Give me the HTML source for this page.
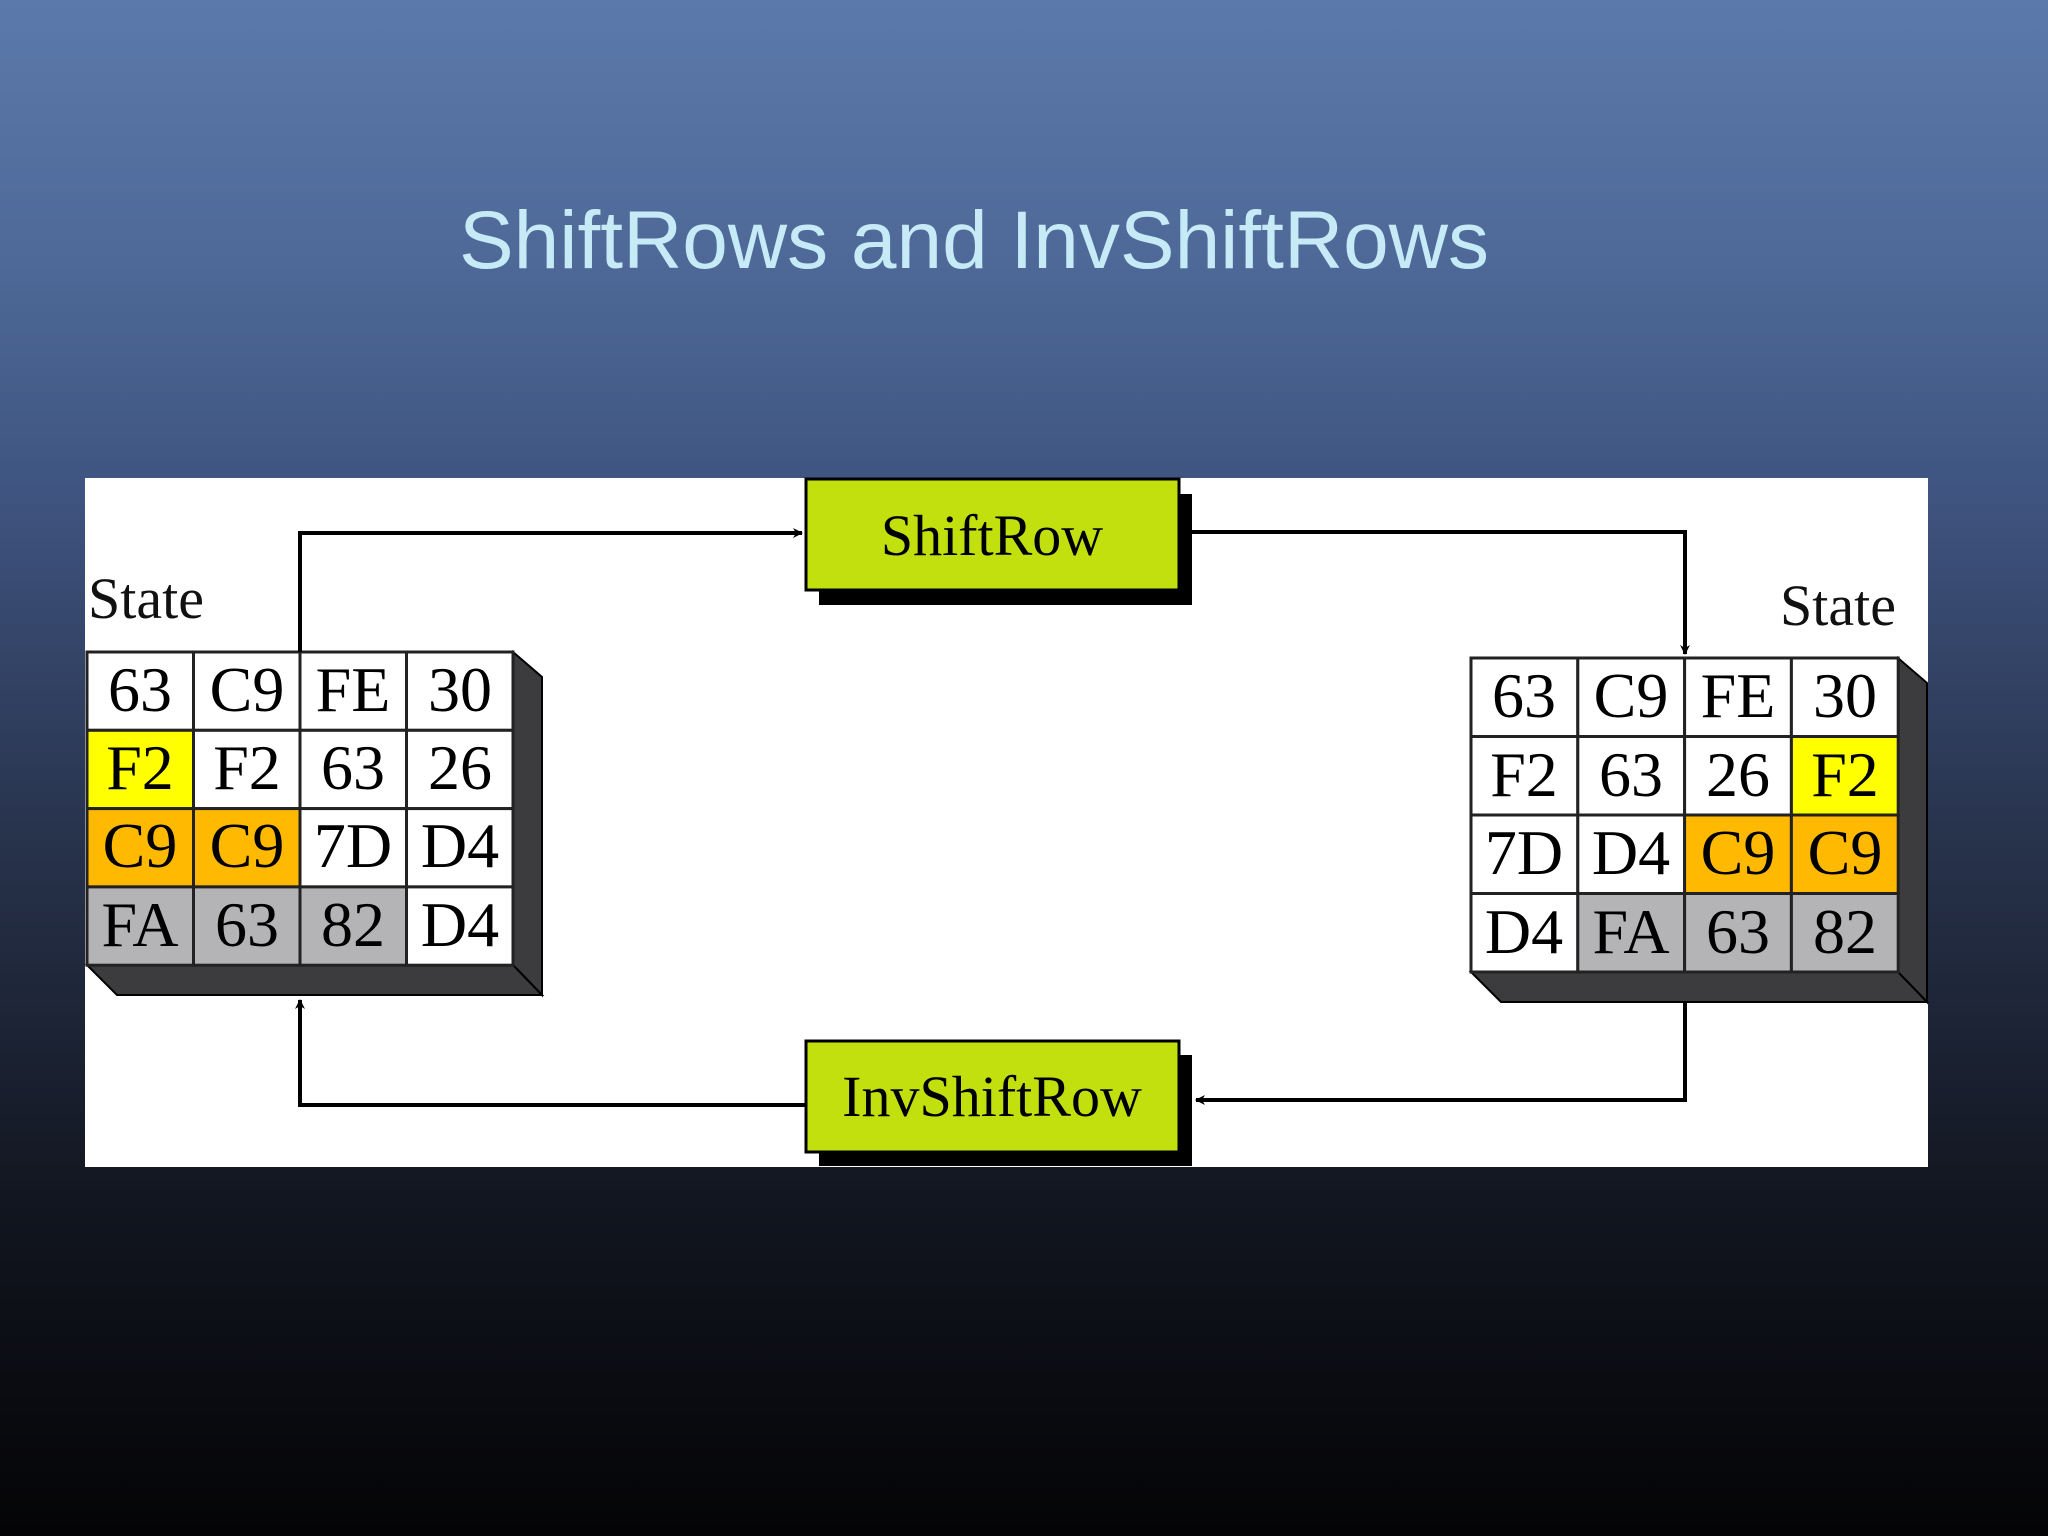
<!DOCTYPE html>
<html><head><meta charset="utf-8"><style>
html,body{margin:0;padding:0;width:2048px;height:1536px;overflow:hidden;}
body{background:linear-gradient(180deg,#5b79ab 0%,#4d6896 18%,#3f5480 32%,#27324b 55%,#121620 78%,#040406 100%);}
svg{display:block}
</style></head><body>
<svg width="2048" height="1536" xmlns="http://www.w3.org/2000/svg">
<text x="974" y="268" text-anchor="middle" font-family="Liberation Sans, sans-serif" font-size="82" fill="#c6ebf7">ShiftRows and InvShiftRows</text>
<rect x="85" y="478" width="1843" height="689" fill="#fff"/>
<defs><marker id="a" markerWidth="10" markerHeight="10" refX="9" refY="5" orient="auto" markerUnits="userSpaceOnUse" viewBox="0 0 10 10"><path d="M0,0 L10,5 L0,10 L3,5z" fill="#000"/></marker></defs>
<g font-family="Liberation Serif, serif" font-size="58" fill="#111">
<text x="88" y="618">State</text>
<text x="1896" y="625" text-anchor="end">State</text>
</g>
<!-- left slab -->
<polygon points="513,652 542,677 542,995 513,965" fill="#3c3c3e" stroke="#000" stroke-width="2"/>
<polygon points="87,965 117,995 542,995 513,965" fill="#3c3c3e" stroke="#000" stroke-width="2"/>
<!-- right slab -->
<polygon points="1898,658 1927,683 1927,1002 1898,972" fill="#3c3c3e" stroke="#000" stroke-width="2"/>
<polygon points="1471,972 1501,1002 1927,1002 1898,972" fill="#3c3c3e" stroke="#000" stroke-width="2"/>
<g stroke="#222" stroke-width="3" font-family="Liberation Serif, serif" font-size="64" text-anchor="middle">
<!-- left grid -->
<g>
<rect x="87" y="652" width="106.5" height="78.3" fill="#fff"/><rect x="193.5" y="652" width="106.5" height="78.3" fill="#fff"/><rect x="300" y="652" width="106.5" height="78.3" fill="#fff"/><rect x="406.5" y="652" width="106.5" height="78.3" fill="#fff"/>
<rect x="87" y="730.3" width="106.5" height="78.3" fill="#ffff00"/><rect x="193.5" y="730.3" width="106.5" height="78.3" fill="#fff"/><rect x="300" y="730.3" width="106.5" height="78.3" fill="#fff"/><rect x="406.5" y="730.3" width="106.5" height="78.3" fill="#fff"/>
<rect x="87" y="808.6" width="106.5" height="78.3" fill="#ffb900"/><rect x="193.5" y="808.6" width="106.5" height="78.3" fill="#ffb900"/><rect x="300" y="808.6" width="106.5" height="78.3" fill="#fff"/><rect x="406.5" y="808.6" width="106.5" height="78.3" fill="#fff"/>
<rect x="87" y="886.9" width="106.5" height="78.3" fill="#b4b4b6"/><rect x="193.5" y="886.9" width="106.5" height="78.3" fill="#b4b4b6"/><rect x="300" y="886.9" width="106.5" height="78.3" fill="#b4b4b6"/><rect x="406.5" y="886.9" width="106.5" height="78.3" fill="#fff"/>
</g>
<g stroke="none" fill="#000">
<text x="140" y="711">63</text><text x="247" y="711">C9</text><text x="353" y="711">FE</text><text x="460" y="711">30</text>
<text x="140" y="789">F2</text><text x="247" y="789">F2</text><text x="353" y="789">63</text><text x="460" y="789">26</text>
<text x="140" y="867">C9</text><text x="247" y="867">C9</text><text x="353" y="867">7D</text><text x="460" y="867">D4</text>
<text x="140" y="946">FA</text><text x="247" y="946">63</text><text x="353" y="946">82</text><text x="460" y="946">D4</text>
</g>
<!-- right grid -->
<g>
<rect x="1471" y="658" width="106.8" height="78.5" fill="#fff"/><rect x="1577.8" y="658" width="106.8" height="78.5" fill="#fff"/><rect x="1684.6" y="658" width="106.8" height="78.5" fill="#fff"/><rect x="1791.4" y="658" width="106.8" height="78.5" fill="#fff"/>
<rect x="1471" y="736.5" width="106.8" height="78.5" fill="#fff"/><rect x="1577.8" y="736.5" width="106.8" height="78.5" fill="#fff"/><rect x="1684.6" y="736.5" width="106.8" height="78.5" fill="#fff"/><rect x="1791.4" y="736.5" width="106.8" height="78.5" fill="#ffff00"/>
<rect x="1471" y="815" width="106.8" height="78.5" fill="#fff"/><rect x="1577.8" y="815" width="106.8" height="78.5" fill="#fff"/><rect x="1684.6" y="815" width="106.8" height="78.5" fill="#ffb900"/><rect x="1791.4" y="815" width="106.8" height="78.5" fill="#ffb900"/>
<rect x="1471" y="893.5" width="106.8" height="78.5" fill="#fff"/><rect x="1577.8" y="893.5" width="106.8" height="78.5" fill="#b4b4b6"/><rect x="1684.6" y="893.5" width="106.8" height="78.5" fill="#b4b4b6"/><rect x="1791.4" y="893.5" width="106.8" height="78.5" fill="#b4b4b6"/>
</g>
<g stroke="none" fill="#000">
<text x="1524" y="717">63</text><text x="1631" y="717">C9</text><text x="1738" y="717">FE</text><text x="1845" y="717">30</text>
<text x="1524" y="796">F2</text><text x="1631" y="796">63</text><text x="1738" y="796">26</text><text x="1845" y="796">F2</text>
<text x="1524" y="874">7D</text><text x="1631" y="874">D4</text><text x="1738" y="874">C9</text><text x="1845" y="874">C9</text>
<text x="1524" y="953">D4</text><text x="1631" y="953">FA</text><text x="1738" y="953">63</text><text x="1845" y="953">82</text>
</g>
</g>
<!-- boxes -->
<rect x="819" y="494" width="373" height="111" fill="#000"/>
<rect x="806" y="479" width="373" height="111" fill="#c2e00e" stroke="#000" stroke-width="3"/>
<text x="992" y="555" text-anchor="middle" font-family="Liberation Serif, serif" font-size="58" fill="#000">ShiftRow</text>
<rect x="819" y="1055" width="373" height="111" fill="#000"/>
<rect x="806" y="1041" width="373" height="111" fill="#c2e00e" stroke="#000" stroke-width="3"/>
<text x="992" y="1116" text-anchor="middle" font-family="Liberation Serif, serif" font-size="58" fill="#000">InvShiftRow</text>
<!-- connectors -->
<g fill="none" stroke="#000" stroke-width="4">
<path d="M300,652 V533 H802" marker-end="url(#a)"/>
<path d="M1192,532 H1685 V654" marker-end="url(#a)"/>
<path d="M1685,1002 V1100 H1196" marker-end="url(#a)"/>
<path d="M806,1105 H300 V1000" marker-end="url(#a)"/>
</g>
</svg>
</body></html>
